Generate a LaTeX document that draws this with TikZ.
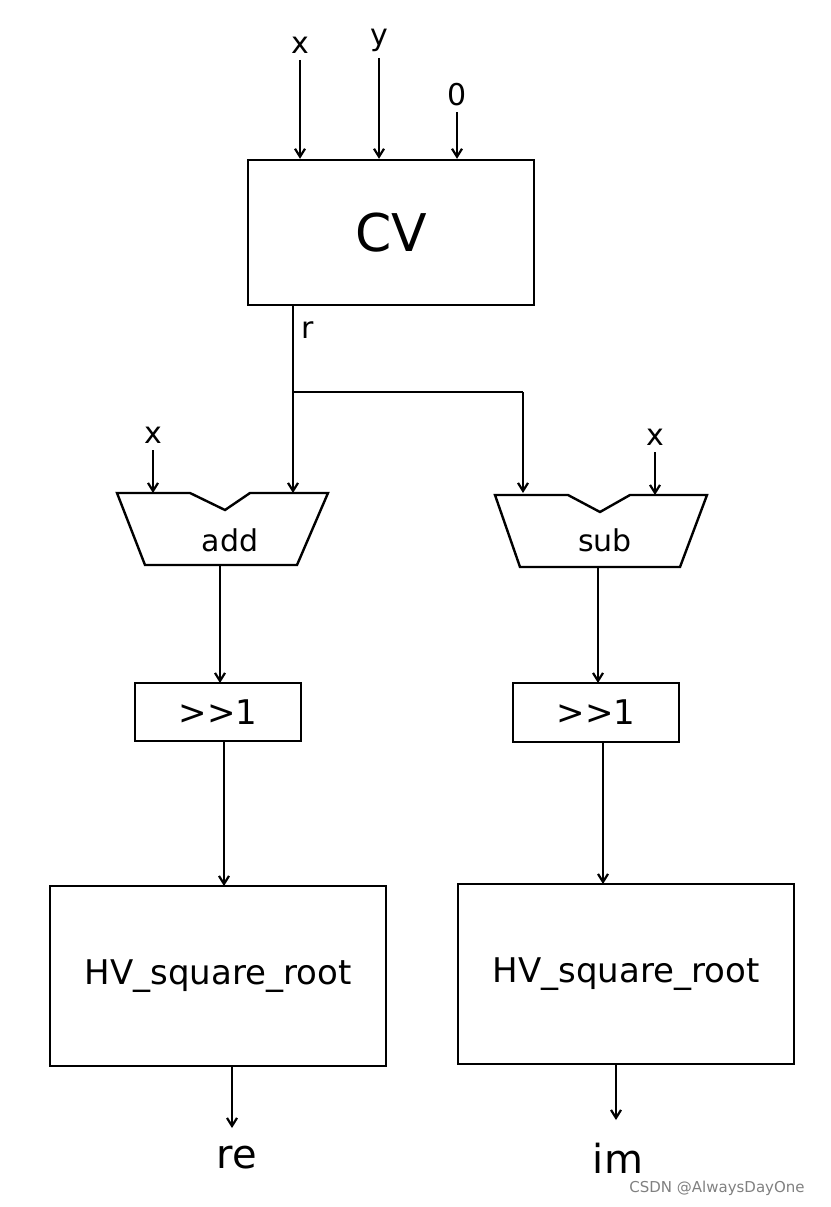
\documentclass[tikz,border=0pt]{standalone}
\usepackage{fontspec}
\setmainfont{DejaVu Sans}[Ligatures=NoCommon]
\usetikzlibrary{arrows.meta}
\begin{document}
\begin{tikzpicture}[x=1pt,y=-1pt,line width=2.2pt,
  arr/.style={-{Straight Barb[length=8pt,width=10pt,line width=2.2pt]}},
  box/.style={draw,line width=2.4pt,inner sep=0pt},
  lab/.style={font=\fontsize{30}{30}\selectfont}]
\useasboundingbox (0,0) rectangle (830,1207);
% CV
\node[box,minimum width=286pt,minimum height=145pt,font=\fontsize{52}{52}\selectfont] (cv) at (391,232.5) {CV};
\coordinate (ix) at (300,60); \coordinate (iy) at (379,58); \coordinate (i0) at (457,112);
\node[lab,anchor=south] at (300,58) {x};
\node[lab,anchor=south] at (379,56) {y};
\node[lab,anchor=south] at (457,110) {0};
\draw[arr] (ix) -- (ix |- cv.north);
\draw[arr] (iy) -- (iy |- cv.north);
\draw[arr] (i0) -- (i0 |- cv.north);
% r split
\coordinate (r0) at (293,305); \coordinate (rs) at (293,392); \coordinate (rr) at (523,392);
\node[lab] at (308,330) {r};
\draw (r0) -- (rs) -- (rr);
% add
\coordinate (addL) at (293,493); \coordinate (addX) at (153,493);
\draw[line width=2.4pt] (117,493) -- (190,493) -- (225,510) -- (250,493) -- (328,493) -- (297,565) -- (145,565) -- cycle;
\node[lab] (add) at (230,540) {add};
\draw[arr] (rs) -- (addL);
\coordinate (ax) at (153,450); \node[lab,anchor=south] at (153,448) {x};
\draw[arr] (ax) -- (addX);
% sub
\coordinate (subL) at (523,493); \coordinate (subX) at (655,495);
\draw[line width=2.4pt] (495,495) -- (568,495) -- (600,512) -- (630,495) -- (707,495) -- (680,567) -- (520,567) -- cycle;
\node[lab] (sub) at (605,540) {sub};
\draw[arr] (rr) -- (subL);
\coordinate (sx) at (655,452); \node[lab,anchor=south] at (655,450) {x};
\draw[arr] (sx) -- (subX);
% shifts
\node[box,minimum width=166pt,minimum height=58pt,font=\fontsize{34}{34}\selectfont] (s1) at (218,712) {>{}>1};
\node[box,minimum width=166pt,minimum height=59pt,font=\fontsize{34}{34}\selectfont] (s2) at (596,712.5) {>{}>1};
\draw[arr] (220,565) -- (220,683);
\draw[arr] (598,567) -- (598,683);
% HV
\node[box,minimum width=336pt,minimum height=180pt,font=\fontsize{34}{34}\selectfont] (h1) at (218,976) {HV\_square\_root};
\node[box,minimum width=336pt,minimum height=180pt,font=\fontsize{34}{34}\selectfont] (h2) at (626,974) {HV\_square\_root};
\draw[arr] (224,741) -- (224,886);
\draw[arr] (603,742) -- (603,884);
\coordinate (re) at (232,1128); \coordinate (im) at (616,1120);
\draw[arr] (232,1066) -- (re);
\draw[arr] (616,1064) -- (im);
\node[lab,font=\fontsize{40}{40}\selectfont] at (237,1158) {re};
\node[lab,font=\fontsize{40}{40}\selectfont] at (618,1158) {im};
\node[text=gray,font=\fontsize{15}{15}\selectfont] at (717,1188) {CSDN @AlwaysDayOne};
\end{tikzpicture}
\end{document}
